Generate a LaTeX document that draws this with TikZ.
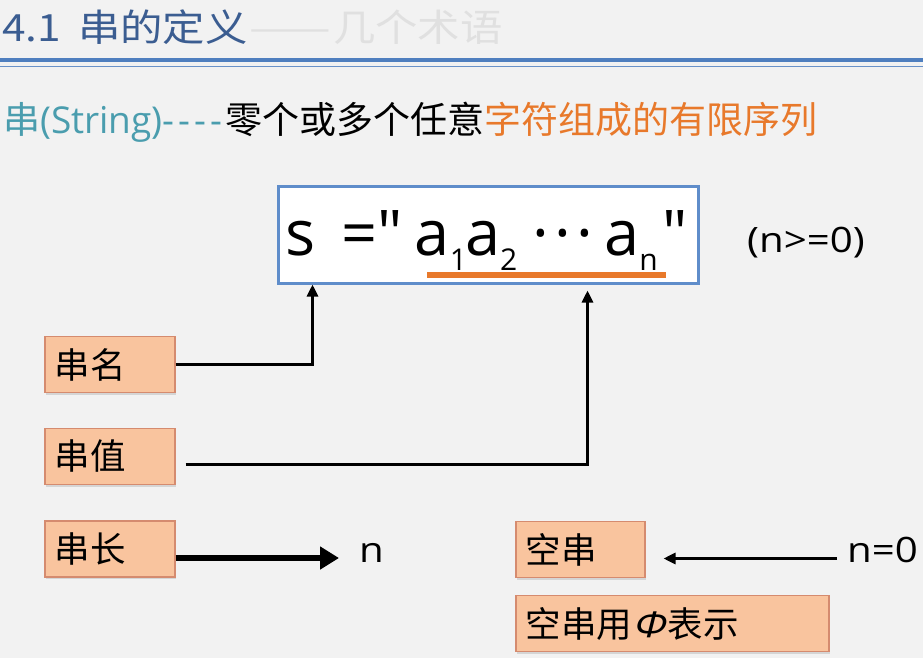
\documentclass[tikz,border=0pt]{standalone}
\usepackage{fontspec}
\usepackage{xcolor}
\setmainfont{Noto Sans CJK SC}
\newfontfamily\titlefont[FakeStretch=1.13]{Noto Sans CJK SC}
\newfontfamily\latinfont{Open Sans}
\newfontfamily\widefont[FakeStretch=1.15]{Open Sans}
\newfontfamily\phifont[FakeSlant=0.25,FakeStretch=1.15]{Open Sans}
\usetikzlibrary{arrows.meta, shadows}

\definecolor{pagebg}{HTML}{F2F2F2}
\definecolor{titleblue}{HTML}{3B5D91}
\definecolor{ghostgray}{HTML}{E0E0E0}
\definecolor{ruleblue}{HTML}{4F7FBF}
\definecolor{tealtext}{HTML}{4A9DAE}
\definecolor{orangetext}{HTML}{E8792B}
\definecolor{boxblue}{HTML}{5F8DCA}
\definecolor{peach}{HTML}{F9C49E}
\definecolor{peachline}{HTML}{D58B6F}

\newcommand{\subidx}[1]{\raisebox{-15pt}{\fontsize{30}{30}\selectfont #1}}

\begin{document}
\begin{tikzpicture}[x=1pt, y=-1pt,
		termbox/.style={draw=peachline, fill=peach, line width=1.5pt, anchor=west,
			minimum height=56pt, inner xsep=10pt, text width=#1,
			font=\fontsize{35.5}{40}\selectfont,
			drop shadow={shadow xshift=1pt, shadow yshift=-2pt, opacity=0.25}},
		formula/.style={anchor=base, inner sep=0pt, font=\latinfont\fontsize{63}{70}\selectfont},
		widelabel/.style={anchor=base west, inner sep=0pt, font=\widefont\fontsize{35}{40}\selectfont},
		link/.style={line width=3pt, -{Triangle[length=12pt, width=11pt]}},
		bigarrow/.style={line width=6pt, -{Triangle[length=19pt, width=22pt]}}]
			% Page
			\fill[pagebg] (0,0) rectangle (923,658);
			\useasboundingbox (0,0) rectangle (923,658);
			
			% Title and rules
			\node[anchor=base west, inner sep=0pt, font=\titlefont\fontsize{37.5}{44}\selectfont] (title) at (2,42)
				{\color{titleblue}4.1\hspace{17pt}串的定义\color{ghostgray}\hspace{2pt}\scalebox{1.15}[1]{——}\hspace{2pt}几个术语};
			\draw[ruleblue, line width=4pt] (0,60) -- (923,60);
			\draw[ruleblue!85, line width=1.5pt] (0,66.5) -- (923,66.5);
			
			% Definition line
			\node[anchor=base west, inner sep=0pt, font=\fontsize{37}{44}\selectfont] (defline) at (3,134)
				{{\color{tealtext}串{\latinfont(String)-\kern4pt-\kern4pt-\kern4pt-\kern3pt}}零个或多个任意{\color{orangetext}字符组成的有限序列}};
			
			% Formula box
			\node[draw=boxblue, fill=white, line width=3pt, minimum width=420pt, minimum height=97pt] (defbox) at (488,234.5) {};
			\node[formula] (sname) at (301,255) {s};
			\node[formula] (eqq) at (372,255) {="};
			\node[formula] (aonetwo) at (466,255) {a\subidx{1}\kern-2pt a\subidx{2}};
			\node[formula] (dots) at (563,255) {·\hspace{5pt}·\hspace{5pt}·};
			\node[formula] (aen) at (631,255) {a\subidx{n}};
			\node[formula] (qclose) at (675,255) {"};
			\draw[orangetext, line width=6pt] (427,275) -- (666,275);
			\node[widelabel] (cond) at (747,252) {(n>=0)};
			
			% Terms
			\node[termbox=110pt] (lname) at (44,364.5) {串名};
			\node[termbox=110pt] (lvalue) at (44,456.5) {串值};
			\node[termbox=110pt] (llen) at (44,549) {串长};
			\node[termbox=109pt] (lempty) at (515,549.5) {空串};
			\node[termbox=293pt] (lphi) at (515,623.5) {空串用{\phifont Φ}\kern3pt表示};
			\node[widelabel] (nlen) at (359,562) {n};
			\node[widelabel] (nzero) at (847,562) {n=0};
			
			% Arrows
			\coordinate (lenfoot) at ([yshift=-9pt]llen.east);
			\coordinate (emptyfoot) at ([yshift=-9pt]lempty.east);
			\draw[link] (lname.east) -| ([xshift=36pt]defbox.south west);
			\draw[link, shorten >=6pt] ([xshift=10pt, yshift=-8pt]lvalue.east) -| ([xshift=311pt]defbox.south west);
			\draw[bigarrow, shorten >=20pt] (lenfoot) -- (lenfoot -| nlen.west);
			\draw[link, shorten <=10pt, shorten >=18pt] (emptyfoot -| nzero.west) -- (emptyfoot);
			
		\end{tikzpicture}
\end{document}
